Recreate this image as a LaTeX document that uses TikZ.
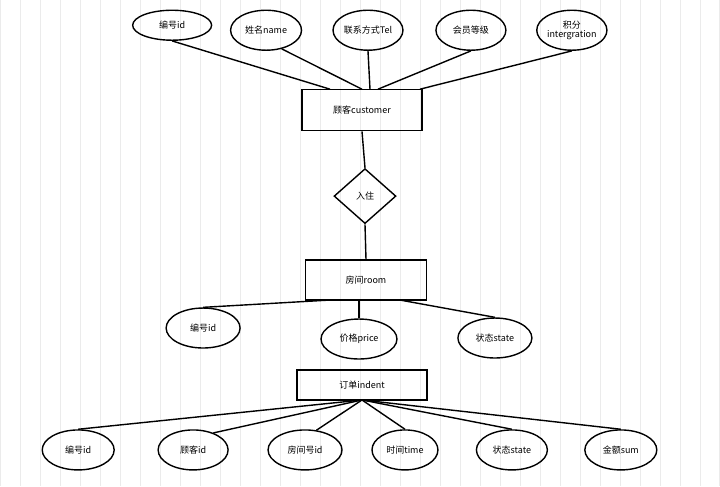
\documentclass[tikz,border=0pt]{standalone}
\usepackage{fontspec}
\setmainfont{Noto Sans CJK SC}
\usetikzlibrary{shapes.geometric}
\begin{document}
\begin{tikzpicture}[x=1pt,y=-1pt,
 attr/.style={draw,line width=1.4pt,ellipse,inner sep=0pt,font=\fontsize{9}{10}\selectfont},
 ent/.style={draw,line width=1.4pt,rectangle,inner sep=0pt,font=\fontsize{9}{10}\selectfont},
 ln/.style={line width=1.4pt}]
\fill[white] (0,0) rectangle (720,486);
\draw[black!8,line width=0.5pt] (0,0) grid[step=20] (720,486);
\useasboundingbox (0,0) rectangle (720,486);
% customer
\node[ent,minimum width=120,minimum height=41] (cu) at (362,110) {顾客customer};
\node[attr,minimum width=79,minimum height=30] (c1) at (172,25) {编号id};
\node[attr,minimum width=71,minimum height=40] (c2) at (266,30) {姓名name};
\node[attr,minimum width=70,minimum height=40] (c3) at (368,30) {联系方式Tel};
\node[attr,minimum width=70,minimum height=40] (c4) at (471,30) {会员等级};
\node[attr,minimum width=70,minimum height=40,align=center,font=\fontsize{9}{9}\selectfont] (c5) at (572,30) {积分\\intergration};
\coordinate (t1) at (330,89);\coordinate (t2) at (362,89);\coordinate (t3) at (370,89);\coordinate (t4) at (378,89);\coordinate (t5) at (420,89);
\draw[ln] (c1.south) -- (t1); \draw[ln] (c2.-50) -- (t2); \draw[ln] (c3.south) -- (t3); \draw[ln] (c4.south) -- (t4); \draw[ln] (c5.south) -- (t5);
% relation
\node[draw,line width=1.4pt,diamond,minimum width=62,minimum height=55,inner sep=0pt,font=\fontsize{9}{10}\selectfont] (d) at (365,196) {入住};
\draw[ln] (cu.south) -- (d.north);
% room
\node[ent,minimum width=121,minimum height=40] (ro) at (366,280) {房间room};
\draw[ln] (d.south) -- (ro.north);
\node[attr,minimum width=74,minimum height=40] (r1) at (203,328) {编号id};
\node[attr,minimum width=76,minimum height=40] (r2) at (359,339) {价格price};
\node[attr,minimum width=74,minimum height=40] (r3) at (495,338) {状态state};
\coordinate (rb1) at (330,300);\coordinate (rb2) at (359,300);\coordinate (rb3) at (400,300);
\draw[ln] (rb1) -- (r1.north); \draw[ln] (rb2) -- (r2.north); \draw[ln] (rb3) -- (r3.north);
% indent
\node[ent,minimum width=130,minimum height=30] (in) at (362,385) {订单indent};
\coordinate (ib) at (362,400);
\node[attr,minimum width=72,minimum height=40] (o1) at (78,450) {编号id};
\node[attr,minimum width=70,minimum height=40] (o2) at (193,450) {顾客id};
\node[attr,minimum width=74,minimum height=40] (o3) at (305,450) {房间号id};
\node[attr,minimum width=66,minimum height=40] (o4) at (405,450) {时间time};
\node[attr,minimum width=71,minimum height=40] (o5) at (512,450) {状态state};
\node[attr,minimum width=72,minimum height=40] (o6) at (621,450) {金额sum};
\draw[ln] (ib) -- (o1.north); \draw[ln] (ib) -- (o2.40); \draw[ln] (ib) -- (o3.60);
\draw[ln] (ib) -- (o4.north); \draw[ln] (ib) -- (o5.north); \draw[ln] (ib) -- (o6.north);
\end{tikzpicture}
\end{document}
